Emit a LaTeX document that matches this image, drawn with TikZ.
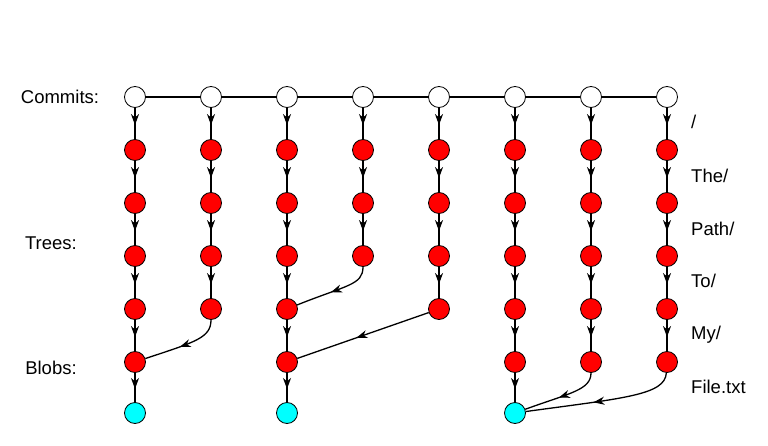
\documentclass[tikz,border=0pt]{standalone}
\usepackage{fontspec}
\setmainfont{Liberation Sans}
\usetikzlibrary{arrows.meta,decorations.markings}
\definecolor{blobcyan}{RGB}{0,255,255}
\definecolor{treered}{RGB}{255,0,0}
\begin{document}
\begin{tikzpicture}[x=1pt,y=-1pt,
  commit/.style={circle,draw=black,fill=white,line width=0.8pt,minimum size=21pt,inner sep=0pt},
  tree/.style={circle,draw=black,fill=treered,line width=0.8pt,minimum size=21pt,inner sep=0pt},
  blob/.style={circle,draw=black,fill=blobcyan,line width=0.8pt,minimum size=21pt,inner sep=0pt},
  lbl/.style={font=\fontsize{18.5}{22}\selectfont,inner sep=0pt},
  edge/.style={line width=1.3pt,postaction={decorate},
    decoration={markings,mark=at position 0.55 with {\arrow{Stealth[length=11pt,width=8pt,inset=3.5pt]}}}},
  link/.style={line width=1.3pt}]
\useasboundingbox (0,0) rectangle (768,446);
% columns
\foreach \i/\x in {1/135,2/211,3/287,4/363,5/439,6/515,7/591,8/667}{
  \node[commit] (c\i) at (\x,97) {};
}
\draw[link] (c1) -- (c2) -- (c3) -- (c4) -- (c5) -- (c6) -- (c7) -- (c8);
% trees
\foreach \i/\x/\n in {1/135/5,2/211/4,3/287/5,4/363/3,5/439/4,6/515/5,7/591/5,8/667/5}{
  \foreach \r in {1,...,\n}{
    \node[tree] (t\i-\r) at (\x,{97+53*\r}) {};
  }
}
\node[blob] (b1) at (135,413) {};
\node[blob] (b3) at (287,413) {};
\node[blob] (b6) at (515,413) {};
% vertical edges
\foreach \i/\n in {1/5,2/4,3/5,4/3,5/4,6/5,7/5,8/5}{
  \draw[edge] (c\i) -- (t\i-1);
  \foreach \r [evaluate=\r as \s using int(\r+1)] in {1,...,\n}{
    \ifnum\r<\n \draw[edge] (t\i-\r) -- (t\i-\s); \fi
  }
}
\draw[edge] (t1-5) -- (b1);
\draw[edge] (t3-5) -- (b3);
\draw[edge] (t6-5) -- (b6);
% cross edges
\draw[edge] (t2-4) .. controls (211,338) and (195,342) .. (t1-5);
\draw[edge] (t4-3) .. controls (363,285) and (347,285) .. (t3-4);
\draw[edge] (t5-4) -- (t3-5);
\draw[edge] (t7-5) .. controls (591,390) and (570,393) .. (b6);
\draw[edge] (t8-5) .. controls (665,395) and (625,398) .. (b6);
% labels
\node[lbl] (lc) at (60,97) {Commits:};
\node[lbl] (lt) at (51,243) {Trees:};
\node[lbl] (lb) at (51,368) {Blobs:};
\node[lbl,anchor=west] (p0) at (691,122) {/};
\node[lbl,anchor=west] (p1) at (691,176) {The/};
\node[lbl,anchor=west] (p2) at (691,229) {Path/};
\node[lbl,anchor=west] (p3) at (691,281) {To/};
\node[lbl,anchor=west] (p4) at (691,335) {My/};
\node[lbl,anchor=west] (p5) at (691,387) {File.txt};
\end{tikzpicture}
\end{document}
